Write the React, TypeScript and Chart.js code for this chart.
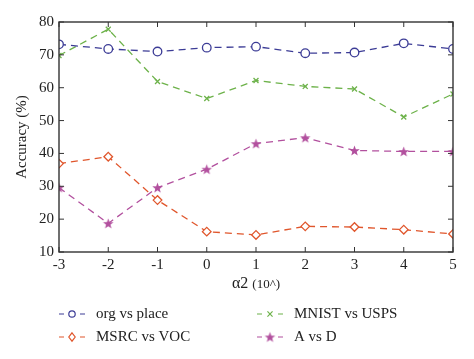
import React, { useEffect, useRef } from "react";
import { Chart, registerables } from "chart.js";

Chart.register(...registerables);

const alphaExp = [-3, -2, -1, 0, 1, 2, 3, 4, 5];
const orgVsPlace = [73.2, 71.8, 71.0, 72.2, 72.5, 70.5, 70.7, 73.5, 71.8];
const mnistVsUsps = [69.8, 77.8, 61.9, 56.7, 62.2, 60.4, 59.6, 51.1, 58.1];
const msrcVsVoc = [36.9, 39.0, 25.8, 16.2, 15.2, 17.8, 17.6, 16.8, 15.5];
const aVsD = [29.6, 18.7, 29.6, 35.2, 43.0, 44.8, 40.9, 40.6, 40.6];
const seriesNames = ["org vs place", "MNIST vs USPS", "MSRC vs VOC", "A vs D"];
const yTicks = [10, 20, 30, 40, 50, 60, 70, 80];
const xTitleMain = "α2";
const xTitleUnit = "(10^)";

const FONT = "'Liberation Serif', 'DejaVu Serif', serif";
const C_BLUE = "#3c3c96";
const C_GREEN = "#6db24a";
const C_ORANGE = "#e0562c";
const C_MAG = "#b2509e";

function makeStar(color: string, r: number) {
  const c = document.createElement("canvas");
  const s = Math.ceil(r * 2 + 2);
  c.width = s;
  c.height = s;
  const ctx = c.getContext("2d")!;
  ctx.fillStyle = color;
  ctx.beginPath();
  for (let i = 0; i < 10; i++) {
    const rad = i % 2 === 0 ? r : r * 0.42;
    const a = -Math.PI / 2 + (i * Math.PI) / 5;
    const x = s / 2 + rad * Math.cos(a);
    const y = s / 2 + 0.5 + rad * Math.sin(a);
    if (i === 0) ctx.moveTo(x, y);
    else ctx.lineTo(x, y);
  }
  ctx.closePath();
  ctx.fill();
  return c;
}

function drawMarker(ctx: CanvasRenderingContext2D, style: string, x: number, y: number, r: number, color: string) {
  ctx.save();
  ctx.strokeStyle = color;
  ctx.fillStyle = "#fff";
  ctx.lineWidth = 1.2;
  ctx.beginPath();
  if (style === "circle") {
    ctx.arc(x, y, r, 0, Math.PI * 2);
    ctx.fill();
    ctx.stroke();
  } else if (style === "rectRot") {
    ctx.moveTo(x, y - r - 1);
    ctx.lineTo(x + r, y);
    ctx.lineTo(x, y + r + 1);
    ctx.lineTo(x - r, y);
    ctx.closePath();
    ctx.fill();
    ctx.stroke();
  } else if (style === "crossRot") {
    ctx.moveTo(x - r * 0.8, y - r * 0.8);
    ctx.lineTo(x + r * 0.8, y + r * 0.8);
    ctx.moveTo(x + r * 0.8, y - r * 0.8);
    ctx.lineTo(x - r * 0.8, y + r * 0.8);
    ctx.stroke();
  }
  ctx.restore();
}

const framePlugin = {
  id: "framePlugin",
  afterDraw(chart: any) {
    const { ctx, chartArea, scales } = chart;
    const { left, right, top, bottom } = chartArea;
    ctx.save();
    ctx.strokeStyle = "#333";
    ctx.lineWidth = 1.4;
    ctx.strokeRect(left, top, right - left, bottom - top);
    const tl = 5;
    ctx.lineWidth = 1;
    scales.x.ticks.forEach((t: any) => {
      const x = scales.x.getPixelForValue(t.value);
      ctx.beginPath();
      ctx.moveTo(x, bottom);
      ctx.lineTo(x, bottom - tl);
      ctx.moveTo(x, top);
      ctx.lineTo(x, top + tl);
      ctx.stroke();
    });
    scales.y.ticks.forEach((t: any) => {
      const y = scales.y.getPixelForValue(t.value);
      ctx.beginPath();
      ctx.moveTo(left, y);
      ctx.lineTo(left + tl, y);
      ctx.moveTo(right, y);
      ctx.lineTo(right - tl, y);
      ctx.stroke();
    });
    // x axis title with smaller unit part
    ctx.fillStyle = "#222";
    ctx.textBaseline = "alphabetic";
    ctx.textAlign = "left";
    ctx.font = `italic 16px ${FONT}`;
    const w1 = ctx.measureText(xTitleMain).width;
    ctx.font = `13px ${FONT}`;
    const w2 = ctx.measureText(xTitleUnit).width;
    const total = w1 + 4 + w2;
    const cx = (left + right) / 2;
    const by = 288;
    ctx.font = `16px ${FONT}`;
    ctx.fillText(xTitleMain, cx - total / 2, by);
    ctx.font = `13px ${FONT}`;
    ctx.fillText(xTitleUnit, cx - total / 2 + w1 + 4, by);
    ctx.restore();
  },
};

const legendPlugin = {
  id: "customLegend",
  afterDraw(chart: any) {
    const { ctx } = chart;
    const metas = chart.data.datasets;
    const pos = [
      [72, 314],
      [270, 314],
      [72, 337],
      [270, 337],
    ];
    ctx.save();
    [0, 1, 2, 3].forEach((di, k) => {
      const ds = metas[di];
      const [cx, cy] = pos[k];
      ctx.strokeStyle = ds.borderColor;
      ctx.lineWidth = 1.2;
      ctx.beginPath();
      ctx.moveTo(cx - 13, cy);
      ctx.lineTo(cx - 8, cy);
      ctx.moveTo(cx + 8, cy);
      ctx.lineTo(cx + 13, cy);
      ctx.stroke();
      const style = ds.pointStyle;
      if (style instanceof HTMLCanvasElement) {
        ctx.drawImage(style, cx - style.width / 2, cy - style.height / 2);
      } else {
        drawMarker(ctx, style, cx, cy, 3.2, ds.borderColor);
      }
      ctx.fillStyle = "#222";
      ctx.font = `15px ${FONT}`;
      ctx.textBaseline = "middle";
      ctx.textAlign = "left";
      ctx.fillText(seriesNames[di], cx + 24, cy);
    });
    ctx.restore();
  },
};

export default function App() {
  const ref = useRef<HTMLCanvasElement>(null);
  useEffect(() => {
    const star = makeStar(C_MAG, 5.5);
    const legendStar = makeStar(C_MAG, 4.5);
    const mk = (label: string, data: number[], color: string, pointStyle: any, radius: number) => ({
      label,
      data: alphaExp.map((x, i) => ({ x, y: data[i] })),
      borderColor: color,
      backgroundColor: "#ffffff",
      borderWidth: 1.3,
      borderDash: [7, 5],
      pointStyle,
      pointRadius: radius,
      pointBorderWidth: 1.3,
      pointBorderColor: color,
      pointBackgroundColor: "#ffffff",
      tension: 0,
    });
    const chart = new Chart(ref.current!, {
      type: "line",
      data: {
        datasets: [
          mk(seriesNames[0], orgVsPlace, C_BLUE, "circle", 4.3),
          mk(seriesNames[1], mnistVsUsps, C_GREEN, "crossRot", 3.5),
          mk(seriesNames[2], msrcVsVoc, C_ORANGE, "rectRot", 4.3),
          mk(seriesNames[3], aVsD, C_MAG, star, 5.5),
        ],
      },
      options: {
        animation: false,
        responsive: false,
        maintainAspectRatio: false,
        layout: { padding: { left: 0, top: 22, right: 21, bottom: 60 } },
        plugins: { legend: { display: false }, tooltip: { enabled: false } },
        scales: {
          x: {
            type: "linear",
            min: -3,
            max: 5,
            ticks: { stepSize: 1, color: "#222", font: { family: FONT, size: 15 }, padding: 4 },
            grid: { display: false, drawTicks: false },
            border: { display: false },
            title: { display: false },
            afterFit: (s: any) => {
              s.height = 47;
            },
          },
          y: {
            type: "linear",
            min: 10,
            max: 80,
            afterBuildTicks: (s: any) => {
              s.ticks = yTicks.map((v) => ({ value: v }));
            },
            ticks: { color: "#222", font: { family: FONT, size: 15 }, padding: 5 },
            grid: { display: false, drawTicks: false },
            border: { display: false },
            title: {
              display: true,
              text: "Accuracy (%)",
              color: "#222",
              font: { family: FONT, size: 15 },
              padding: { top: 13, bottom: 0 },
            },
            afterFit: (s: any) => {
              s.width = 59;
            },
          },
        },
      },
      plugins: [framePlugin, legendPlugin],
    });
    (chart.data.datasets[3] as any)._legendStar = legendStar;
    return () => chart.destroy();
  }, []);
  return (
    <div style={{ position: "fixed", left: 0, top: 0, width: 474, height: 359, background: "#fff" }}>
      <canvas ref={ref} width={474} height={359} style={{ width: 474, height: 359 }} />
    </div>
  );
}
